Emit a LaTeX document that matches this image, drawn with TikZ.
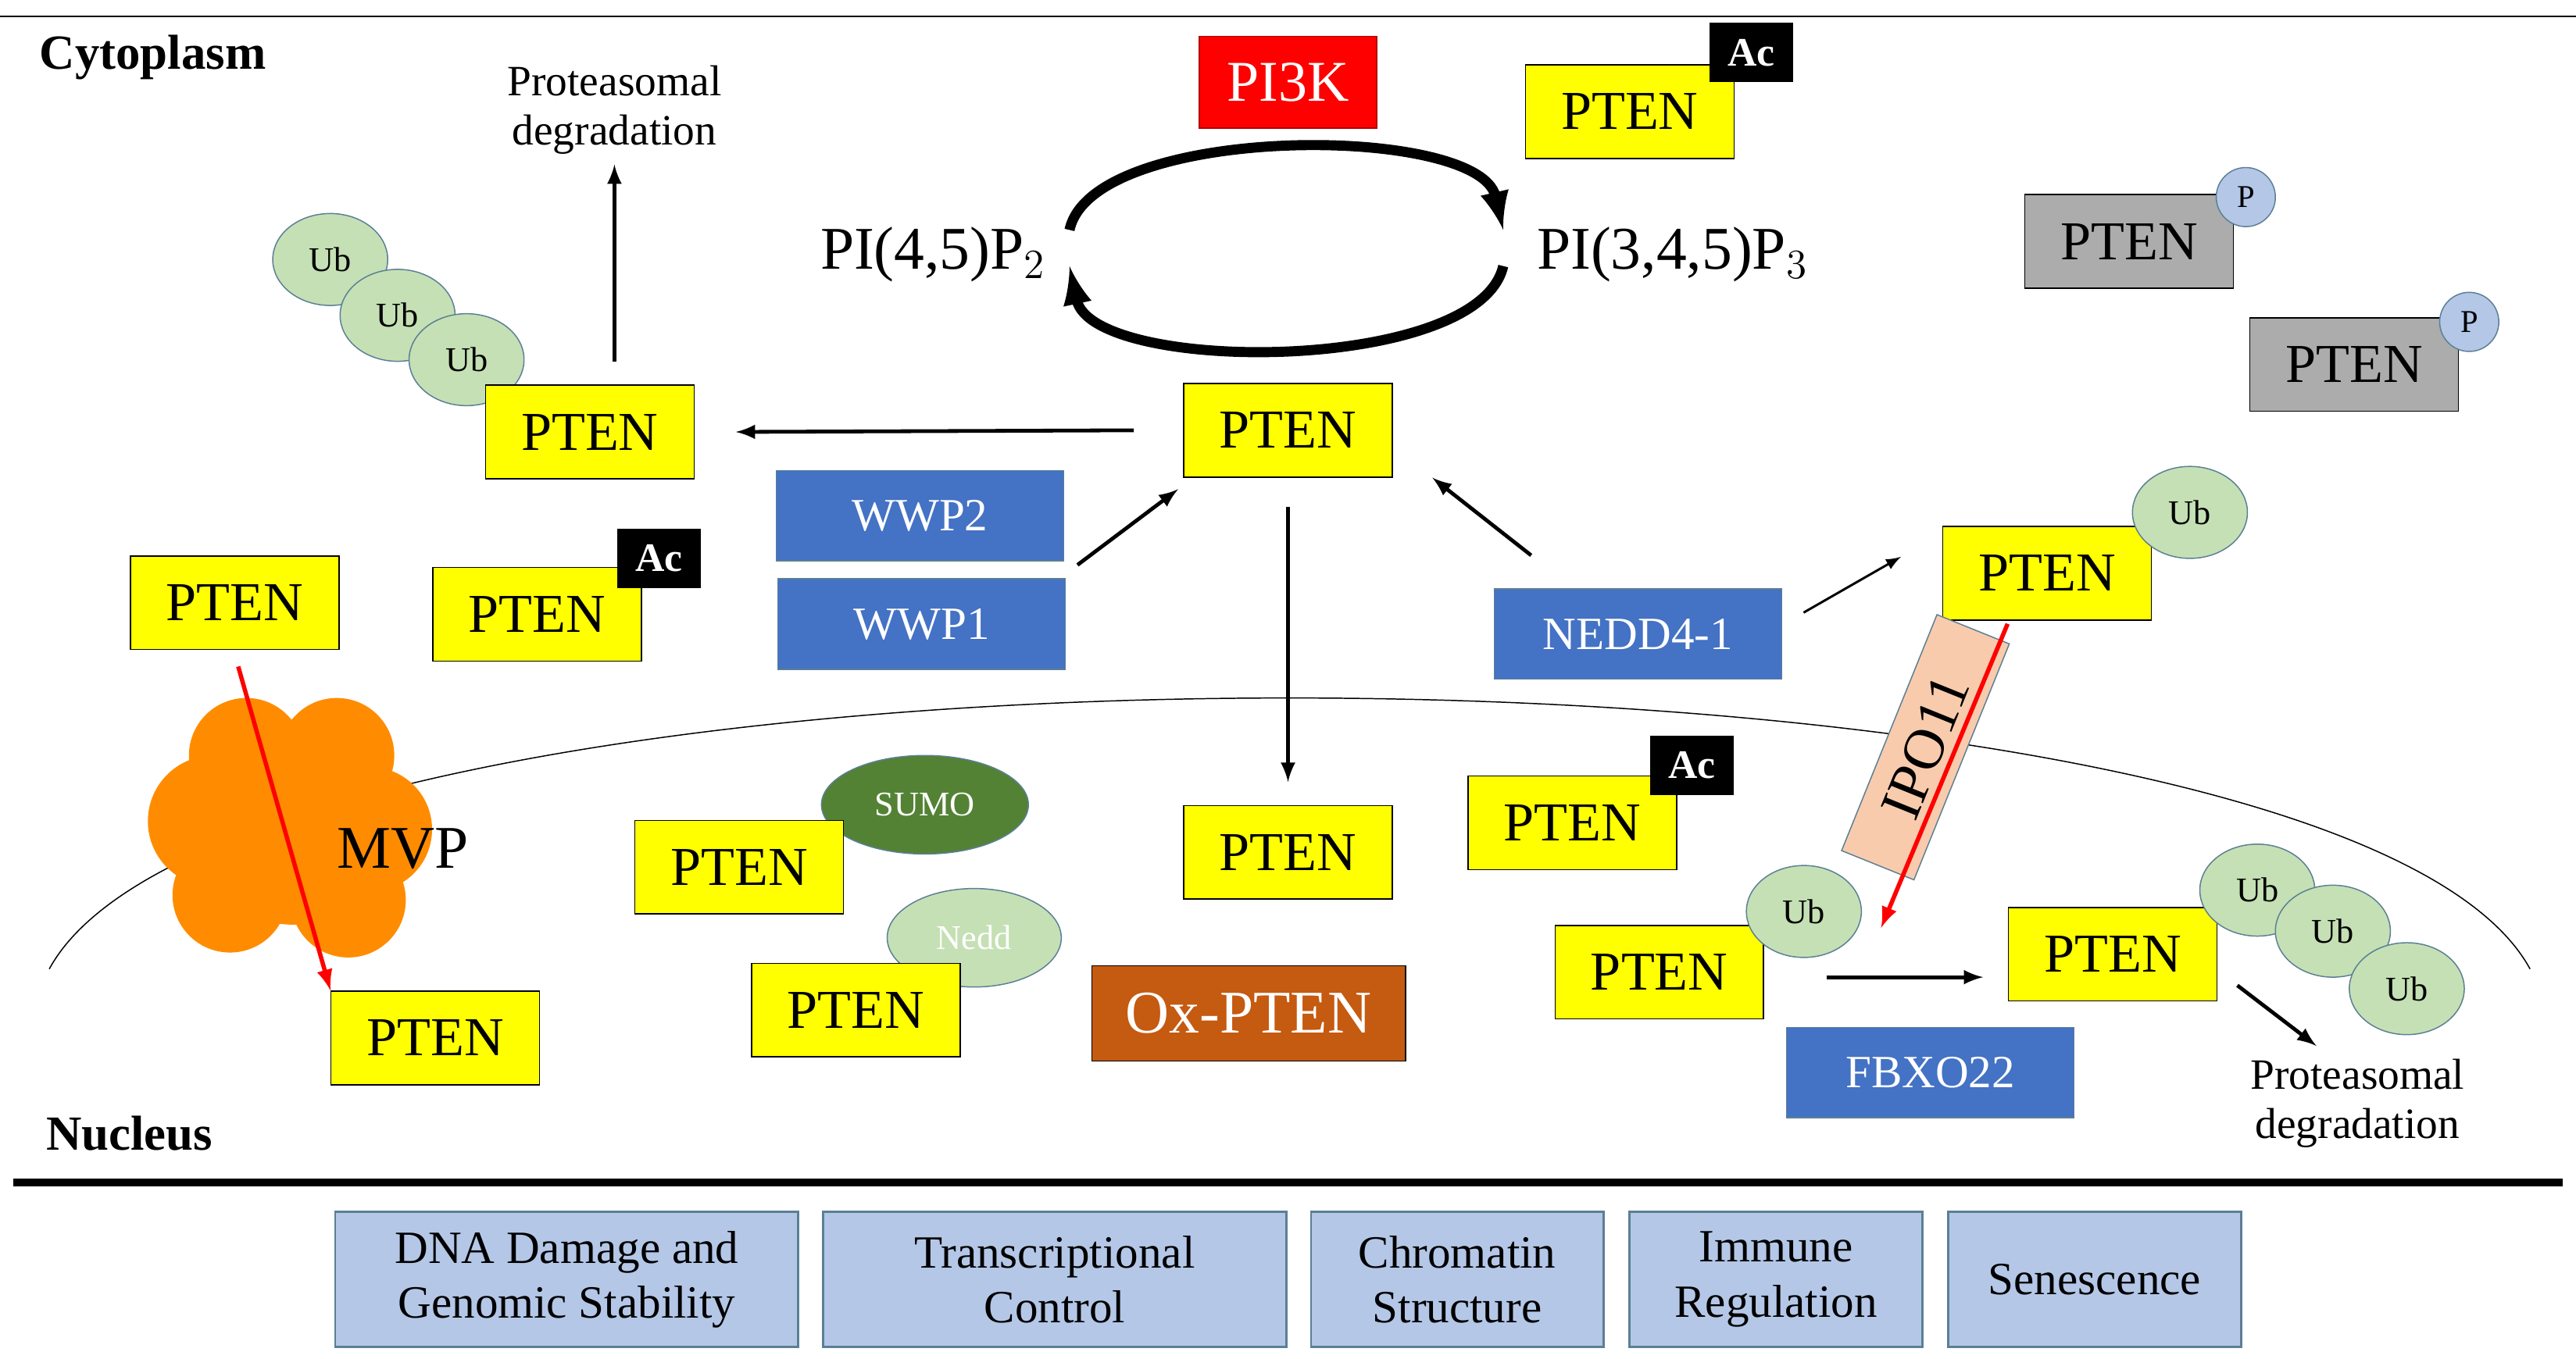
\documentclass[tikz,border=0pt]{standalone}
\usepackage{fontspec}
\setmainfont{Liberation Serif}
\usetikzlibrary{shapes, arrows, positioning, calc}
\definecolor{ptenyel}{HTML}{FFFF00}
\definecolor{enzblue}{HTML}{4472C4}
\definecolor{ubgreen}{HTML}{C5E0B4}
\definecolor{ubline}{HTML}{5B7F95}
\definecolor{sumogreen}{HTML}{548235}
\definecolor{oxbrown}{HTML}{C55A11}
\definecolor{funcblue}{HTML}{B4C7E7}
\definecolor{ipopeach}{HTML}{F8CBAD}
\definecolor{mvporange}{HTML}{FF8C00}
\tikzset{
  pten/.style={rectangle, draw, fill=ptenyel, minimum width=2.54cm, minimum height=1.14cm, font=\fontsize{19}{21}\selectfont},
  enz/.style={rectangle, draw=ubline, fill=enzblue, text=white, minimum width=3.5cm, minimum height=1.1cm, font=\fontsize{16}{18}\selectfont},
  ub/.style={ellipse, draw=ubline, fill=ubgreen, minimum width=1.4cm, minimum height=1.12cm, inner sep=0pt, font=\fontsize{12}{14}\selectfont},
  acbox/.style={rectangle, fill=black, text=white, minimum width=1.02cm, minimum height=0.72cm, font=\bfseries\fontsize{14}{16}\selectfont},
  pbub/.style={circle, draw=ubline, fill=funcblue, minimum size=0.72cm, inner sep=0pt, font=\fontsize{11}{13}\selectfont},
  func/.style={rectangle, draw=ubline, thick, fill=funcblue, minimum height=1.64cm, align=center, font=\fontsize{16}{19}\selectfont},
  lbl/.style={align=center, font=\fontsize{15}{17}\selectfont},
  arr/.style={->, line width=1.3pt},
}
\begin{document}
\begin{tikzpicture}[x=0.02cm, y=-0.02cm, >=latex]
\useasboundingbox (0,0) rectangle (1568,827.5);
% frame lines
\coordinate (tl) at (0,10); \coordinate (tr) at (1568,10);
\draw (tl) -- (tr);
\coordinate (bl) at (8,720); \coordinate (br) at (1560,720);
\draw[line width=2.5pt] (bl) -- (br);
\node[anchor=west, font=\bfseries\fontsize{17}{19}\selectfont] (cyto) at (18,35) {Cytoplasm};
\node[anchor=west, font=\bfseries\fontsize{17}{19}\selectfont] (nuc) at (22,690) {Nucleus};
% nuclear membrane
\coordinate (m1) at (30,590); \coordinate (m2) at (1540,590);
\draw (m1) .. controls (150,370) and (1420,370) .. (m2);
% PI3K cycle
\node[rectangle, draw=red!70!black, fill=red, text=white, minimum width=2.16cm, minimum height=1.12cm, font=\fontsize{20}{22}\selectfont] (pi3k) at (784,50) {PI3K};
\node[font=\fontsize{21}{23}\selectfont] (pip2) at (568,155) {PI(4,5)P$_2$};
\node[font=\fontsize{21}{23}\selectfont] (pip3) at (1018,155) {PI(3,4,5)P$_3$};
\coordinate (c1) at (651,140); \coordinate (c2) at (915,140);
\coordinate (c3) at (915,162); \coordinate (c4) at (651,162);
\draw[->, line width=3.5pt] (c1) .. controls (665,75) and (900,75) .. (c2);
\draw[->, line width=3.5pt] (c3) .. controls (900,228) and (665,228) .. (c4);
% acetylated PTEN top
\node[pten] (ptac1) at (992,68) {PTEN};
\node[acbox] (ac1) at (1066,32) {Ac};
% phosphorylated PTEN
\node[pten, fill=gray!65] (ptp1) at (1296,147) {PTEN};
\node[pbub] (p1) at (1367,120) {P};
\node[pten, fill=gray!65] (ptp2) at (1433,222) {PTEN};
\node[pbub] (p2) at (1503,196) {P};
% polyubiquitinated PTEN, cytoplasm
\node[lbl] (deg1) at (374,67) {Proteasomal\\degradation};
\node[ub] (u1) at (201,158) {Ub};
\node[ub] (u2) at (242,192) {Ub};
\node[ub] (u3) at (284,219) {Ub};
\node[pten] (ptub) at (359,263) {PTEN};
\draw[arr] ($(ptub.north -| deg1)+(0,-14)$) -- (deg1);
% central PTEN
\node[pten] (ptc) at (784,262) {PTEN};
\draw[arr] ($(ptc.west)+(-30,0)$) -- ($(ptub.east)+(25,0)$);
\node[enz] (wwp2) at (560,314) {WWP2};
\node[enz] (wwp1) at (561,380) {WWP1};
\draw[arr] ($(wwp1.east)+(7,-36)$) -- ($(ptc.south west)+(-3,7)$);
\node[enz] (nedd) at (997,386) {NEDD4-1};
\draw[arr] ($(nedd.north)+(-65,-20)$) -- ($(ptc.south east)+(24,0)$);
\node[pten] (ptu2) at (1246,349) {PTEN};
\node[ub] (ub2) at (1333,312) {Ub};
\draw[->, thick] ($(nedd.east)+(13,-13)$) -- ($(ptu2.west)+(-25,-10)$);
\node[pten] (ptac2) at (327,374) {PTEN};
\node[acbox] (ac2) at (401,340) {Ac};
\node[pten] (ptl) at (143,367) {PTEN};
% nucleus contents
\node[pten] (ptmid) at (784,519) {PTEN};
\draw[arr] ($(ptc.south)+(0,18)$) -- ($(ptmid.north)+(0,-14)$);
\fill[mvporange] (178,505) circle (58) (150,460) circle (35) (205,460) circle (35)
  (140,545) circle (35) (212,548) circle (35) (130,500) circle (40) (225,505) circle (38);
\node[font=\fontsize{21}{23}\selectfont] (mvpl) at (245,517) {MVP};
\node[pten] (ptn1) at (265,632) {PTEN};
\draw[->, red, line width=1.5pt] ($(ptl.south)+(2,10)$) -- (ptn1.north west);
\node[ellipse, draw=ubline, fill=sumogreen, text=white, minimum width=2.52cm, minimum height=1.2cm, font=\fontsize{12}{14}\selectfont] (sumo) at (563,490) {SUMO};
\node[pten] (ptsumo) at (450,528) {PTEN};
\node[ellipse, draw=ubline, fill=ubgreen, text=white, minimum width=2.12cm, minimum height=1.2cm, font=\fontsize{12}{14}\selectfont] (neddc) at (593,571) {Nedd};
\node[pten] (ptnedd) at (521,615) {PTEN};
\node[rectangle, draw, fill=oxbrown, text=white, minimum width=3.82cm, minimum height=1.16cm, font=\fontsize{21}{23}\selectfont] (ox) at (760,617) {Ox-PTEN};
\node[pten] (ptac3) at (957,501) {PTEN};
\node[acbox] (ac3) at (1030,466) {Ac};
\node[rectangle, draw=ubline, fill=ipopeach, rotate=68, minimum width=3.1cm, minimum height=0.95cm, font=\fontsize{20}{22}\selectfont] (ipo) at (1172,455) {IPO11};
\coordinate (ipoend) at (1145,565);
\draw[->, red, line width=1.5pt] ($(ptu2.south)+(-24,2)$) -- (ipoend);
\node[pten] (ptu3) at (1010,592) {PTEN};
\node[ub] (ub3) at (1098,555) {Ub};
\node[pten] (ptu4) at (1286,581) {PTEN};
\draw[arr] ($(ptu3.east)+(38,3)$) -- ($(ptu4.west)+(-15,14)$);
\node[ub] (ub4) at (1374,542) {Ub};
\node[ub] (ub5) at (1420,567) {Ub};
\node[ub] (ub6) at (1465,602) {Ub};
\node[enz] (fbxo) at (1175,653) {FBXO22};
\node[lbl] (deg2) at (1435,672) {Proteasomal\\degradation};
\draw[arr] ($(ptu4.east)+(12,19)$) -- ($(deg2.north)+(-25,-2)$);
% functions
\node[func, minimum width=5.64cm] (f1) at (345,779) {DNA Damage and\\Genomic Stability};
\node[func, minimum width=5.64cm] (f2) at (642,779) {Transcriptional\\Control};
\node[func, minimum width=3.56cm] (f3) at (887,779) {Chromatin\\Structure};
\node[func, minimum width=3.56cm] (f4) at (1081,779) {Immune\\Regulation};
\node[func, minimum width=3.56cm] (f5) at (1275,779) {Senescence};
\end{tikzpicture}
\end{document}
